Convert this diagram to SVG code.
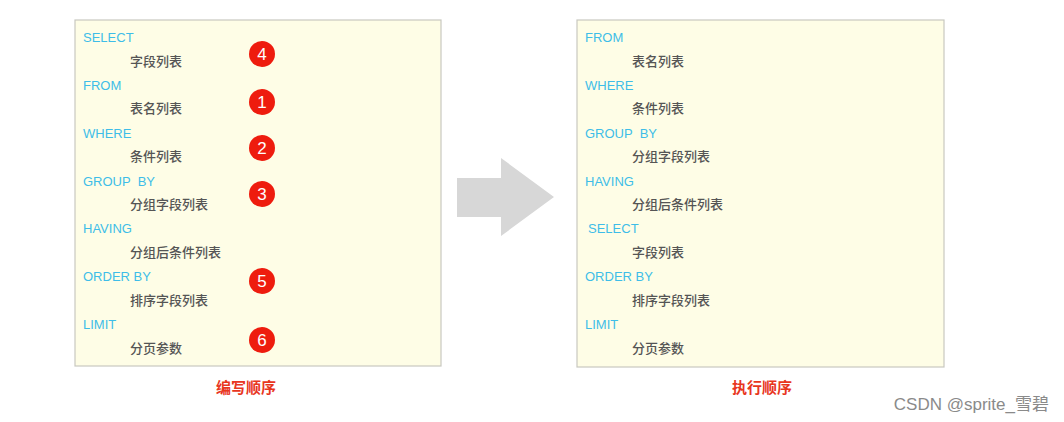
<svg xmlns="http://www.w3.org/2000/svg" width="1064" height="422" viewBox="0 0 1064 422">
<style>
.box{fill:#fefde6;stroke:#c8c8c0;stroke-width:1.2}
.kw{font-family:"Liberation Sans","Noto Sans CJK SC",sans-serif;font-size:13px;fill:#3ebde8;white-space:pre}
.sub{font-family:"Noto Sans CJK SC",sans-serif;font-size:13px;font-weight:500;fill:#555}
.num circle{fill:#ee1c0e}
.num text{font-family:"Liberation Sans",sans-serif;font-size:17px;fill:#fff;text-anchor:middle}
.cap{font-family:"Noto Sans CJK SC",sans-serif;font-size:15px;font-weight:bold;fill:#e8361e;text-anchor:middle}
</style>
<rect width="1064" height="422" fill="#fff"/>
<g id="left">
<rect class="box" x="75" y="20" width="366" height="346"/>
<text class="kw" x="83" y="42">SELECT</text><text class="sub" x="130" y="66">字段列表</text>
<text class="kw" x="83" y="90">FROM</text><text class="sub" x="130" y="113">表名列表</text>
<text class="kw" x="83" y="138">WHERE</text><text class="sub" x="130" y="161">条件列表</text>
<text class="kw" x="83" y="186" xml:space="preserve">GROUP  BY</text><text class="sub" x="130" y="209">分组字段列表</text>
<text class="kw" x="83" y="233">HAVING</text><text class="sub" x="130" y="257">分组后条件列表</text>
<text class="kw" x="83" y="281">ORDER BY</text><text class="sub" x="130" y="305">排序字段列表</text>
<text class="kw" x="83" y="329">LIMIT</text><text class="sub" x="130" y="353">分页参数</text>
<g class="num">
<circle cx="262" cy="54" r="13"/><text x="262" y="60">4</text>
<circle cx="262" cy="102" r="13"/><text x="262" y="108">1</text>
<circle cx="262" cy="148" r="13"/><text x="262" y="154">2</text>
<circle cx="262" cy="194" r="13"/><text x="262" y="200">3</text>
<circle cx="262" cy="281" r="13"/><text x="262" y="287">5</text>
<circle cx="262" cy="340" r="13"/><text x="262" y="346">6</text>
</g>
<text class="cap" x="246" y="393">编写顺序</text>
</g>
<g id="right">
<rect class="box" x="577" y="20" width="367" height="347"/>
<text class="kw" x="585" y="42">FROM</text><text class="sub" x="632" y="66">表名列表</text>
<text class="kw" x="585" y="90">WHERE</text><text class="sub" x="632" y="113">条件列表</text>
<text class="kw" x="585" y="138" xml:space="preserve">GROUP  BY</text><text class="sub" x="632" y="161">分组字段列表</text>
<text class="kw" x="585" y="186">HAVING</text><text class="sub" x="632" y="209">分组后条件列表</text>
<text class="kw" x="588" y="233">SELECT</text><text class="sub" x="632" y="257">字段列表</text>
<text class="kw" x="585" y="281">ORDER BY</text><text class="sub" x="632" y="305">排序字段列表</text>
<text class="kw" x="585" y="329">LIMIT</text><text class="sub" x="632" y="353">分页参数</text>
<text class="cap" x="762" y="393">执行顺序</text>
</g>
<g id="connectors">
<polygon points="457,178 501,178 501,158 554,197 501,236 501,217 457,217" fill="#d7d7d7"/>
</g>
<text x="1049" y="410" text-anchor="end" font-family="'Liberation Sans','Noto Sans CJK SC',sans-serif" font-size="17" fill="#8a8a8a">CSDN @sprite_雪碧</text>
</svg>
